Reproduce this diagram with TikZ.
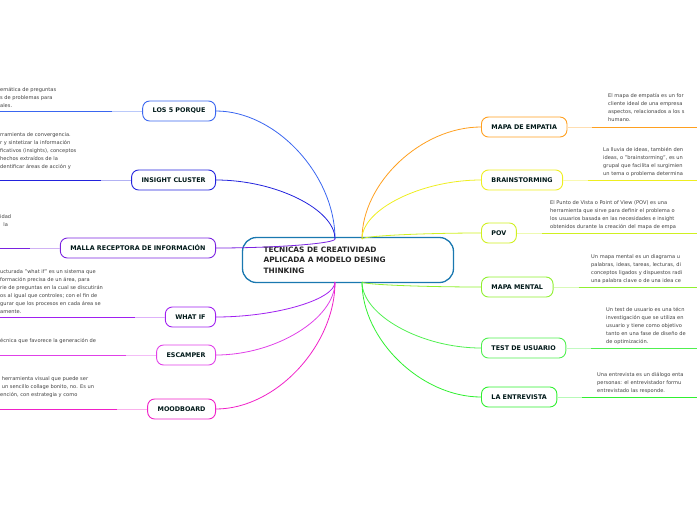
\documentclass[tikz,border=0pt]{standalone}
\usepackage{fontspec}
\setmainfont{DejaVu Sans}
\usetikzlibrary{calc}
\begin{document}
\begin{tikzpicture}[x=1pt,y=-1pt,
  topic/.style={draw,line width=0.9pt,rounded corners=7pt,minimum height=20pt,font=\bfseries\fontsize{6.4}{7}\selectfont,text=black!80!teal,fill=white,inner xsep=10pt,inner ysep=3pt},
  desc/.style={font=\fontsize{5.1}{8}\selectfont,text=black!75,align=left,inner sep=0pt,anchor=north west},
  conn/.style={line width=0.8pt}]
\useasboundingbox (0,0) rectangle (697,520);
\clip (0,0) rectangle (697,520);
\definecolor{c1}{HTML}{3A66F0}\definecolor{c2}{HTML}{2222DD}\definecolor{c3}{HTML}{7A22E0}
\definecolor{c4}{HTML}{A020F0}\definecolor{c5}{HTML}{E040E8}\definecolor{c6}{HTML}{F020C8}
\definecolor{r1}{HTML}{FFA020}\definecolor{r2}{HTML}{EEEE20}\definecolor{r3}{HTML}{D0F020}
\definecolor{r4}{HTML}{90F030}\definecolor{r5}{HTML}{50F050}\definecolor{r6}{HTML}{30F030}
\definecolor{cen}{HTML}{1A78B0}

\node[draw=cen,line width=1.3pt,rounded corners=14pt,minimum width=211pt,minimum height=45pt,inner sep=0pt] (c) at (348,260) {};
\node[font=\bfseries\fontsize{7.4}{10.5}\selectfont,align=left,anchor=west,text=black!85] at (260,260) {TECNICAS DE CREATIVIDAD\\APLICADA A MODELO DESING\\THINKING};
\coordinate (lt) at (335,239); \coordinate (lb) at (335,282);
\coordinate (rt) at (362,239); \coordinate (rb) at (362,282);

% left
\foreach \n/\t/\y/\col/\s in {a/LOS 5 PORQUE/111/c1/lt, b/INSIGHT CLUSTER/180/c2/lt, m/MALLA RECEPTORA DE INFORMACIÓN/248/c3/lt, w/WHAT IF/317/c4/lb, e/ESCAMPER/355/c5/lb, o/MOODBOARD/409/c6/lb}{
  \node[topic,draw=\col,anchor=east] (\n) at (216,\y) {\t};
  \draw[conn,\col] (\s) .. controls ($(\s)!0.5!(\s|-\n)$) and ($(\n.east)+(60,0)$) .. (\n.east);
  \draw[conn,\col!35] (\n.west) -- ++(-30,0);
  \draw[line width=1pt,\col] ($(\n.west)+(-30,0)$) -- (0,\y);
}
% right
\foreach \n/\t/\y/\col/\s in {p/MAPA DE EMPATIA/127/r1/rt, q/BRAINSTORMING/180/r2/rt, v/POV/233/r3/rt, t/MAPA MENTAL/287/r4/rb, u/TEST DE USUARIO/348/r5/rb, z/LA ENTREVISTA/397/r6/rb}{
  \node[topic,draw=\col,anchor=west] (\n) at (481,\y) {\t};
  \draw[conn,\col] (\s) .. controls ($(\s)!0.5!(\s|-\n)$) and ($(\n.west)+(-60,0)$) .. (\n.west);
  \draw[conn,\col!35] (\n.east) -- ++(25,0);
  \draw[line width=1pt,\col] ($(\n.east)+(25,0)$) -- (697,\y);
}
% left texts
\node[desc] at (0,87) {emática de preguntas\\s de problemas para\\ales.};
\node[desc] at (0,132) {rramienta de convergencia.\\r y sintetizar la información\\ficativos (insights), conceptos\\hechos extraídos de la\\dentificar áreas de acción y};
\node[desc] at (0,214) {idad\\\ \ la};
\node[desc] at (0,269) {ucturada "what if" es un sistema que\\formación precisa de un área, para\\rie de preguntas en la cual se discutirán\\os al igual que controles; con el fin de\\gurar que los procesos en cada área se\\amente.};
\node[desc] at (0,338) {écnica que favorece la generación de};
\node[desc] at (0,376) {\ herramienta visual que puede ser\\\ un sencillo collage bonito, no. Es un\\ención, con estrategia y como};
% right texts
\node[desc] at (608,93) {El mapa de empatía es un for\\cliente ideal de una empresa\\aspectos, relacionados a los s\\humano.};
\node[desc] at (603,147) {La lluvia de ideas, también den\\ideas, o "brainstorming", es un\\grupal que facilita el surgimien\\un tema o problema determina};
\node[desc] at (550,200) {El Punto de Vista o Point of View (POV) es una\\herramienta que sirve para definir el problema o\\los usuarios basada en las necesidades e insight\\obtenidos durante la creación del mapa de empa};
\node[desc] at (591,254) {Un mapa mental es un diagrama u\\palabras, ideas, tareas, lecturas, di\\conceptos ligados y dispuestos radi\\una palabra clave o de una idea ce};
\node[desc] at (606,307) {Un test de usuario es una técn\\investigación que se utiliza en\\usuario y tiene como objetivo\\tanto en una fase de diseño de\\de optimización.};
\node[desc] at (597,372) {Una entrevista es un diálogo enta\\personas: el entrevistador formu\\entrevistado las responde.};
\end{tikzpicture}
\end{document}
